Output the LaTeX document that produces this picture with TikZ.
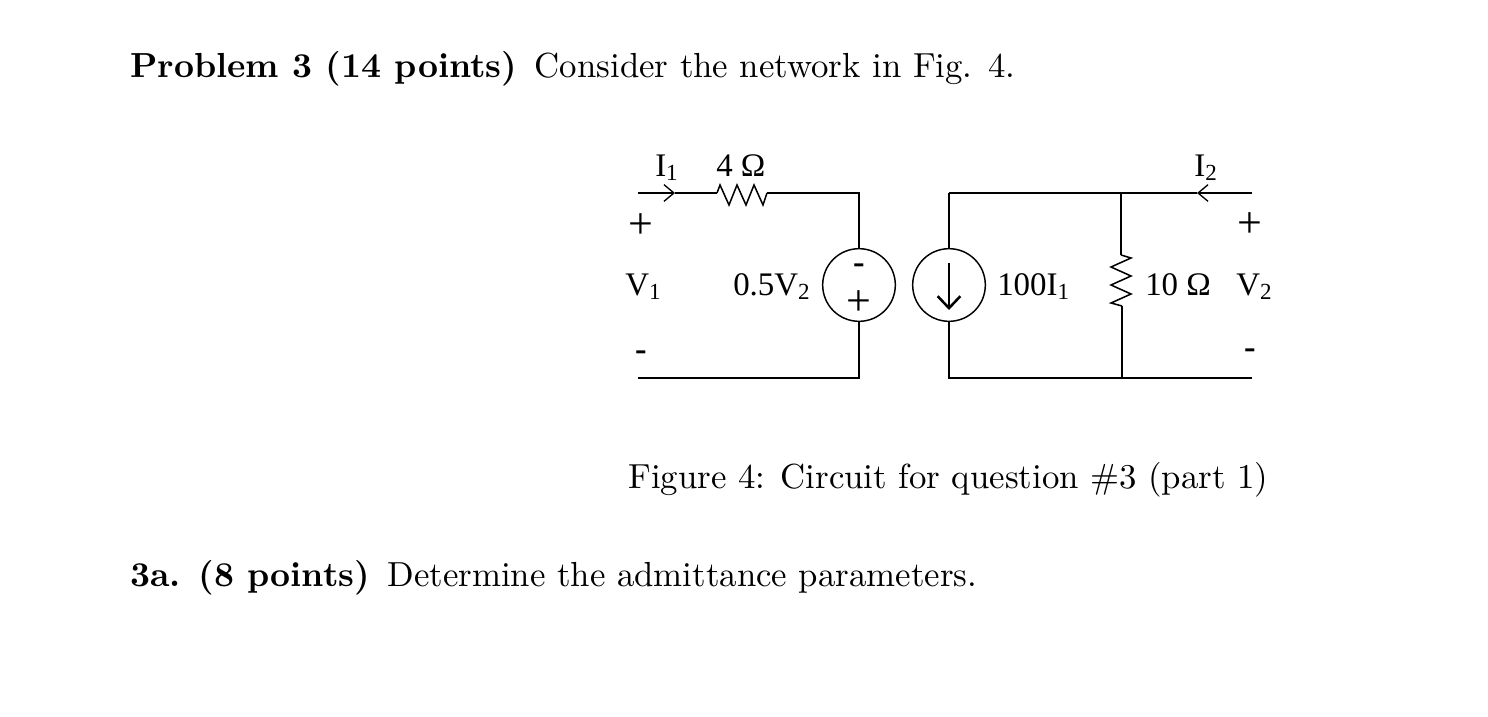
\documentclass[tikz,border=0pt]{standalone}
\usepackage{fontspec}
\usetikzlibrary{arrows.meta}
\setmainfont{lmroman10-regular.otf}[BoldFont=lmroman10-bold.otf]
\newfontfamily\figfont{Liberation Serif}

\tikzset{
  wire/.style={line width=1.15pt},
  source/.style={circle,draw,line width=1.1pt,minimum size=54.5pt,inner sep=0pt},
  prose/.style={anchor=base west,inner sep=0pt,font=\fontsize{26.1}{31}\selectfont},
  lab/.style={anchor=base west,inner sep=0pt,font=\figfont\fontsize{24.7}{29}\selectfont},
  sign/.style={inner sep=0pt,font=\figfont\fontsize{33}{37}\selectfont},
  dash sign/.style={inner sep=0pt,font=\figfont\bfseries\fontsize{26}{30}\selectfont},
  current/.style={-{Straight Barb[length=7.5pt,width=12.5pt]},line width=1pt}
}

\begin{document}
\begin{tikzpicture}[x=0.75pt,y=-0.75pt]
\useasboundingbox (0,0) rectangle (1488,717);

\node[prose](title) at (130,78){\textbf{Problem 3 (14 points)}\hspace{4.5pt} Consider the network in Fig. 4.};
\node[prose](caption) at (628,488){Figure 4: Circuit for question \#3 (part 1)};
\node[prose](part) at (130,586){\textbf{3a. (8 points)}\hspace{4.5pt} Determine the admittance parameters.};

\coordinate (tl) at (638,193);
\coordinate (bl) at (638,378);
\coordinate (tr) at (1252,193);
\coordinate (br) at (1252,378);
\coordinate (i1) at (675,193);
\coordinate (i2) at (1197,193);
\coordinate (ra) at (717,193);
\coordinate (rb) at (767,193);
\coordinate (ta) at (949,193);
\coordinate (ba) at (949,378);
\coordinate (tm) at (1121,193);
\coordinate (bm) at (1122,378);
\coordinate (sa) at (1121,255);
\coordinate (sb) at (1122,306);

\node[source](vs) at (859,285){};
\node[source](cs) at (949,285){};
\coordinate (arrowtop) at (949,263);
\coordinate (arrowtip) at (949,310);

\draw[current](tl)--(i1);
\draw[wire](i1)--(ra);
\draw[wire,line join=miter](ra)--++(3,-8)--++(9,20)--++(8,-20)--++(9,20)--++(8,-20)--++(9,20)--(rb);
\draw[wire](rb)-|(vs.north);
\draw[wire](vs.south)|-(bl);
\draw[wire](ta)--(cs.north);
\draw[wire](cs.south)--(ba)--(br);
\draw[wire](ta)--(i2);
\draw[current](tr)--(i2);
\draw[wire](tm)--(sa);
\draw[wire](sa)--++(10,3)--++(-20,9)--++(20,9)--++(-20,9)--++(20,9)--++(-20,9)--(sb);
\draw[wire](sb)--(bm);
\draw[-{Straight Barb[length=9pt,width=17pt]},line width=1.9pt](arrowtop)--(arrowtip);

\node[lab](li1) at (655,176){I\textsubscript{1}};
\node[lab](lr1) at (716,176){4 Ω};
\node[lab](li2) at (1194,176){I\textsubscript{2}};
\node[lab](lv1) at (625,295){V\textsubscript{1}};
\node[lab](lv2) at (1236,295){V\textsubscript{2}};
\node[lab](lvs) at (733,295){0.5V\textsubscript{2}};
\node[lab](lcs) at (997,295){100I\textsubscript{1}};
\node[lab](lr2) at (1145,295){10 Ω};

\node[sign](p1) at (641,226){+};
\node[dash sign](m1) at (641,356){-};
\node[sign](p2) at (1250,225){+};
\node[dash sign](m2) at (1250,354){-};
\node[sign](pv) at (859,303){+};
\node[dash sign](mv) at (859,269){-};

\end{tikzpicture}
\end{document}
